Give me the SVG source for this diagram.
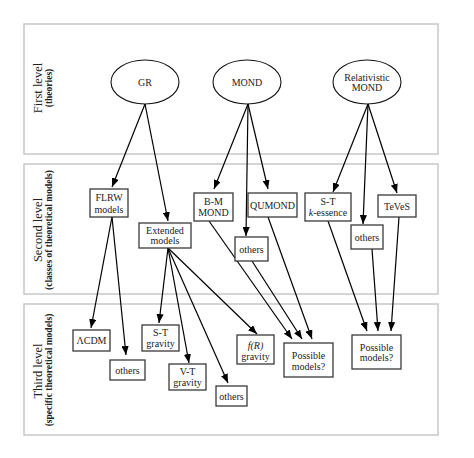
<svg xmlns="http://www.w3.org/2000/svg" width="474" height="458" viewBox="0 0 474 458">
<defs>
<style>
.panel{fill:#fff;stroke:#c8c8c8;stroke-width:1.5}
.node{fill:#fff;stroke:#3a3a3a;stroke-width:1.3}
.ell{fill:#fff;stroke:#111;stroke-width:1.1}
.t{font-family:"Liberation Serif","Times New Roman",serif;font-size:10px;fill:#222;text-anchor:middle}
.lvl{font-family:"Liberation Serif","Times New Roman",serif;font-size:12.5px;fill:#222;text-anchor:middle}
.sub{font-family:"Liberation Serif","Times New Roman",serif;font-size:9.5px;font-weight:bold;fill:#222;text-anchor:middle}
.c line{stroke:#000;stroke-width:1.2;marker-end:url(#ah)}
</style>
<marker id="ah" viewBox="0 0 10 8" markerWidth="9" markerHeight="7.2" refX="10" refY="4" orient="auto" markerUnits="userSpaceOnUse">
<path d="M0,0 L10,4 L0,8 z" fill="#000"/>
</marker>
</defs>
<rect width="474" height="458" fill="#fff"/>
<g id="panels">
<rect class="panel" x="24" y="24" width="414" height="130"/>
<rect class="panel" x="24" y="164" width="414" height="130"/>
<rect class="panel" x="24" y="304" width="414" height="131"/>
<text class="lvl" transform="translate(42,88) rotate(-90)">First level</text>
<text class="sub" transform="translate(51.5,88) rotate(-90)">(theories)</text>
<text class="lvl" transform="translate(42,230) rotate(-90)">Second level</text>
<text class="sub" transform="translate(51.5,230) rotate(-90)">(classes of theoretical models)</text>
<text class="lvl" transform="translate(42,371) rotate(-90)">Third level</text>
<text class="sub" transform="translate(51.5,370) rotate(-90)">(specific theoretical models)</text>
</g>
<g id="connectors" class="c">
<line x1="145" y1="104" x2="112" y2="187"/>
<line x1="145" y1="104" x2="168" y2="221"/>
<line x1="248" y1="104" x2="214" y2="189"/>
<line x1="248" y1="104" x2="246" y2="236"/>
<line x1="248" y1="104" x2="268" y2="189"/>
<line x1="368" y1="104" x2="333" y2="192"/>
<line x1="368" y1="104" x2="363" y2="224"/>
<line x1="368" y1="104" x2="397" y2="193"/>
<line x1="112" y1="217" x2="91" y2="328"/>
<line x1="112" y1="217" x2="126" y2="355"/>
<line x1="168" y1="248" x2="159" y2="323"/>
<line x1="168" y1="248" x2="189" y2="363"/>
<line x1="168" y1="248" x2="228" y2="383"/>
<line x1="168" y1="248" x2="257" y2="334"/>
<line x1="209" y1="221" x2="292" y2="339"/>
<line x1="252" y1="261" x2="302" y2="339"/>
<line x1="268" y1="217" x2="312" y2="339"/>
<line x1="328" y1="221" x2="367" y2="331"/>
<line x1="372" y1="249" x2="378" y2="331"/>
<line x1="399" y1="217" x2="391" y2="331"/>
</g>
<g id="GR"><ellipse class="ell" cx="145" cy="82" rx="34" ry="22"/><text class="t" x="145" y="85.5">GR</text></g>
<g id="MOND"><ellipse class="ell" cx="247" cy="82" rx="34" ry="22"/><text class="t" x="247" y="85.5">MOND</text></g>
<g id="RelMOND"><ellipse class="ell" cx="367" cy="82" rx="34" ry="22"/><text class="t" x="367" y="80.5">Relativistic</text><text class="t" x="367" y="91">MOND</text></g>
<g id="FLRW"><rect class="node" x="90" y="189" width="38" height="28"/><text class="t" x="109" y="200.5">FLRW</text><text class="t" x="109" y="212.5">models</text></g>
<g id="Extended"><rect class="node" x="139" y="223" width="52" height="25"/><text class="t" x="165" y="233.5">Extended</text><text class="t" x="165" y="244">models</text></g>
<g id="BMMOND"><rect class="node" x="194" y="193" width="39" height="28"/><text class="t" x="213.5" y="205">B-M</text><text class="t" x="213.5" y="216">MOND</text></g>
<g id="QUMOND"><rect class="node" x="248" y="193" width="49" height="24"/><text class="t" x="272.5" y="208.5">QUMOND</text></g>
<g id="othersMOND"><rect class="node" x="235" y="237" width="33" height="24"/><text class="t" x="251.5" y="252.5">others</text></g>
<g id="STk"><rect class="node" x="305" y="193" width="46" height="28"/><text class="t" x="328" y="205">S-T</text><text class="t" x="328" y="216"><tspan font-style="italic">k</tspan>-essence</text></g>
<g id="othersRel"><rect class="node" x="351" y="225" width="32" height="24"/><text class="t" x="367" y="240.5">others</text></g>
<g id="TeVeS"><rect class="node" x="378" y="195" width="38" height="22"/><text class="t" x="397" y="209.5">TeVeS</text></g>
<g id="LCDM"><rect class="node" x="73" y="330" width="37" height="21"/><text class="t" x="91.5" y="343.5">ΛCDM</text></g>
<g id="othersFLRW"><rect class="node" x="110" y="360" width="35" height="20"/><text class="t" x="127.5" y="373.5">others</text></g>
<g id="STgrav"><rect class="node" x="142" y="325" width="37" height="26"/><text class="t" x="160.5" y="335.5">S-T</text><text class="t" x="160.5" y="346.5">gravity</text></g>
<g id="VTgrav"><rect class="node" x="169" y="364" width="37" height="26"/><text class="t" x="187.5" y="375">V-T</text><text class="t" x="187.5" y="386">gravity</text></g>
<g id="othersExt"><rect class="node" x="216" y="386" width="31" height="20"/><text class="t" x="231.5" y="399.5">others</text></g>
<g id="fR"><rect class="node" x="237" y="335" width="37" height="29"/><text class="t" x="255.5" y="348.5" font-style="italic">f(R)</text><text class="t" x="255.5" y="360">gravity</text></g>
<g id="Possible1"><rect class="node" x="284" y="343" width="49" height="34"/><text class="t" x="308.5" y="358.5">Possible</text><text class="t" x="308.5" y="369.5">models?</text></g>
<g id="Possible2"><rect class="node" x="352" y="335" width="49" height="34"/><text class="t" x="376.5" y="351">Possible</text><text class="t" x="376.5" y="361">models?</text></g>
</svg>
